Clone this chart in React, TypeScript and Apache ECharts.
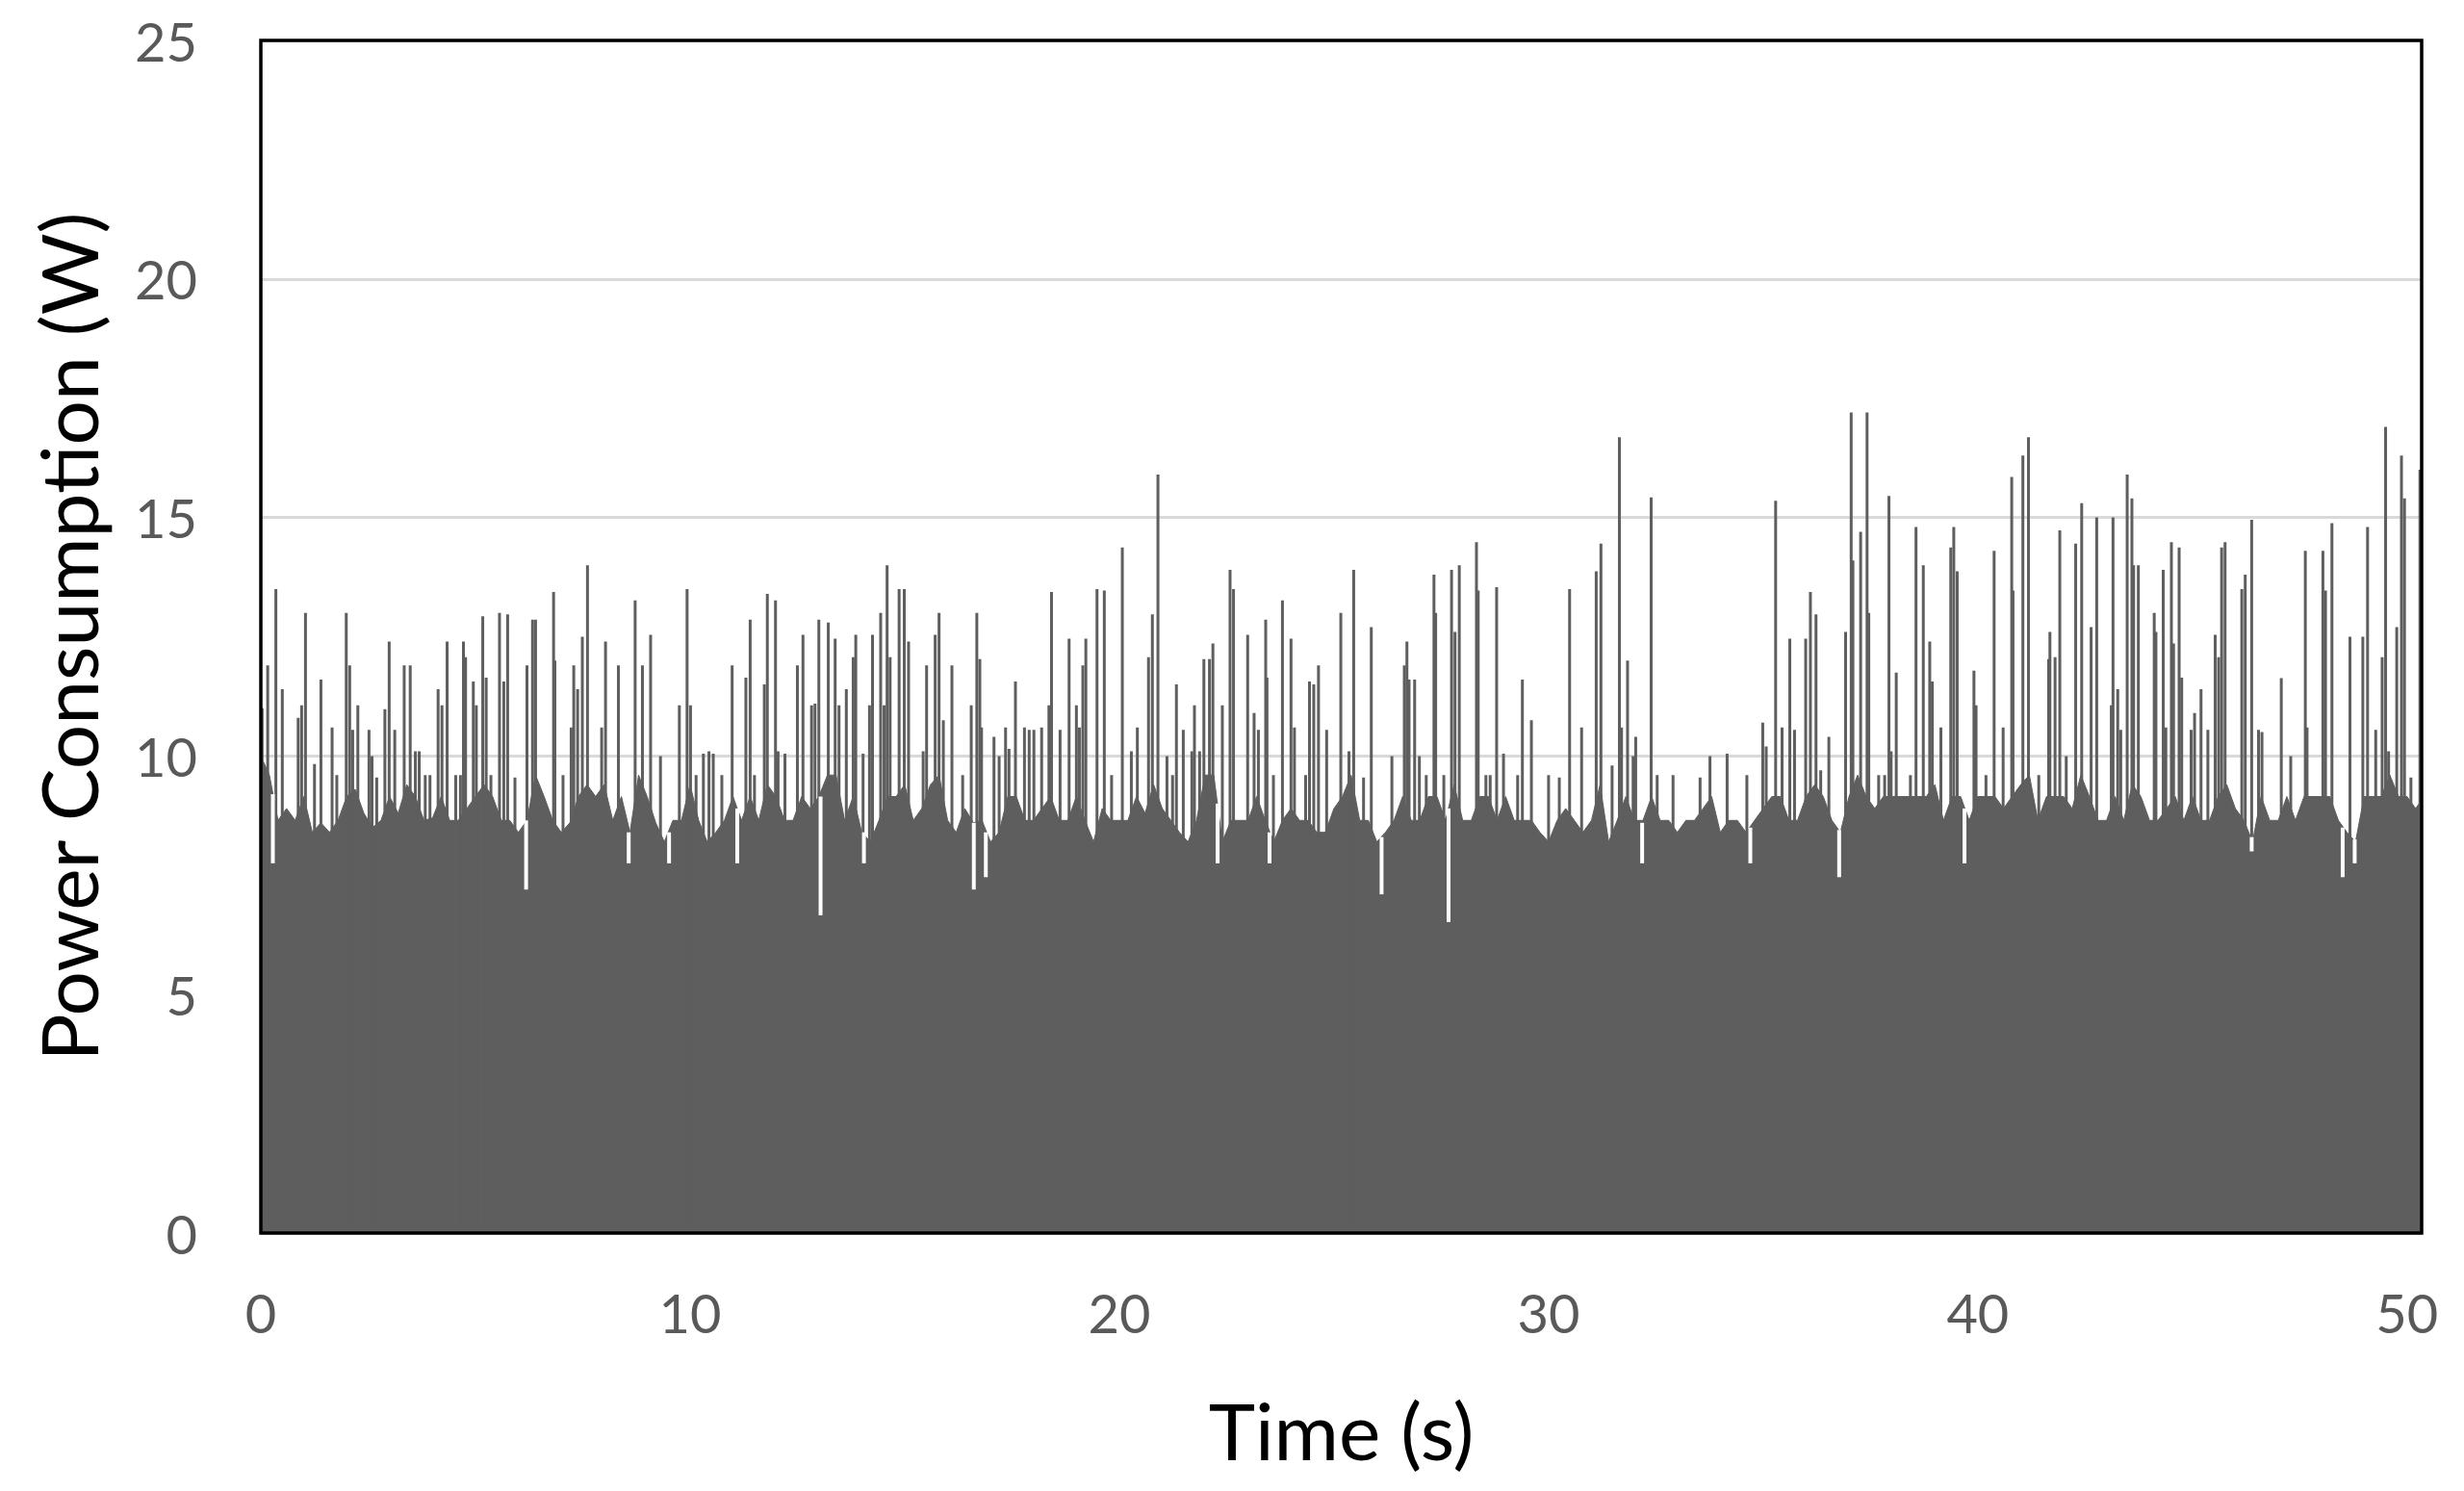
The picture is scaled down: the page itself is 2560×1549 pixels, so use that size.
import React, { useEffect, useRef } from "react";
import * as echarts from "echarts";

// ---- axes ----
const X_MIN = 0;
const X_MAX = 50.34;
const X_INTERVAL = 10;
const Y_MIN = 0;
const Y_MAX = 25;
const Y_INTERVAL = 5;
const X_TITLE = "Time (s)";
const Y_TITLE = "Power Consumption (W)";

// ---- baseline power level, sampled every 0.2 s from t = 0 ----
const BASE_STEP = 0.2;
const baseValues: number[] = [
  10.0, 9.6, 8.65, 8.9, 8.65, 9.15, 8.4, 8.6, 8.4, 8.65,
  9.15, 9.3, 8.8, 8.5, 8.65, 9.15, 8.8, 9.4, 9.15, 8.65,
  8.7, 9.15, 8.65, 8.65, 8.9, 9.15, 9.4, 9.15, 8.65, 8.65,
  8.4, 8.65, 9.6, 9.15, 8.65, 8.4, 8.6, 9.15, 9.4, 9.15,
  9.4, 8.65, 9.15, 8.4, 9.6, 9.15, 8.6, 8.2, 8.65, 8.65,
  9.4, 8.65, 8.2, 8.4, 8.65, 9.15, 8.65, 9.15, 8.65, 9.4,
  9.15, 8.65, 8.65, 9.15, 8.9, 9.15, 9.6, 9.6, 8.65, 9.15,
  8.4, 8.2, 8.65, 9.15, 9.15, 9.4, 8.65, 8.9, 9.4, 9.6,
  8.65, 8.4, 8.9, 8.6, 8.65, 8.2, 8.4, 9.15, 9.15, 8.65,
  8.65, 8.9, 9.15, 8.65, 8.65, 9.15, 8.65, 8.2, 8.9, 8.65,
  8.65, 8.65, 9.15, 8.8, 9.4, 8.9, 8.65, 8.4, 8.2, 8.65,
  9.6, 9.6, 8.2, 8.65, 8.65, 8.65, 9.15, 8.65, 8.2, 8.65,
  8.9, 8.65, 8.65, 8.4, 8.4, 8.9, 9.15, 9.6, 8.65, 8.65,
  8.2, 8.4, 8.65, 9.15, 8.65, 8.65, 9.15, 9.15, 8.65, 9.4,
  8.65, 8.65, 9.15, 9.15, 8.65, 9.15, 8.65, 8.65, 8.65, 8.4,
  8.2, 8.65, 8.9, 8.65, 8.4, 8.65, 9.4, 8.2, 8.65, 9.15,
  8.65, 8.65, 9.15, 8.65, 8.65, 8.4, 8.65, 8.65, 8.9, 9.15,
  8.4, 8.65, 8.65, 8.4, 8.65, 8.9, 9.15, 9.15, 8.65, 8.65,
  9.15, 9.4, 9.15, 8.65, 8.4, 9.15, 9.6, 9.15, 8.9, 9.15,
  9.15, 9.15, 9.15, 9.15, 9.15, 9.4, 8.65, 9.15, 9.15, 8.65,
  9.15, 9.15, 9.15, 8.9, 9.15, 9.4, 9.6, 8.65, 9.15, 9.15,
  9.15, 8.9, 9.6, 9.15, 8.65, 8.65, 9.15, 8.65, 9.4, 9.15,
  8.65, 8.65, 8.9, 9.15, 8.65, 9.15, 8.65, 8.65, 9.15, 9.4,
  8.9, 8.65, 8.2, 9.15, 8.65, 8.65, 9.15, 8.65, 9.15, 9.15,
  9.15, 9.15, 8.65, 8.4, 8.2, 9.15, 9.15, 9.15, 9.6, 9.15,
  9.15, 8.9, 9.15,
];

// ---- short power spikes: [time s, power W] ----
const spikes: [number, number][] = [
  [0.03, 11.0], [0.16, 11.9], [0.35, 13.5], [0.5, 11.4], [0.87, 10.8], [0.95, 11.06], [1.04, 13.0],
  [1.25, 9.83], [1.4, 11.6], [1.66, 10.6], [1.77, 9.6], [1.99, 13.0], [2.07, 11.9], [2.14, 10.55],
  [2.26, 11.06], [2.52, 10.55], [2.59, 10.0], [2.7, 9.55], [2.89, 10.98], [2.99, 12.4], [3.12, 10.55],
  [3.34, 11.9], [3.48, 11.9], [3.6, 10.1], [3.69, 10.1], [3.83, 9.6], [3.94, 9.6], [4.13, 11.4],
  [4.22, 11.06], [4.34, 12.4], [4.54, 9.6], [4.65, 9.6], [4.72, 12.4], [4.77, 12.07], [4.95, 11.56],
  [5.02, 11.06], [5.17, 12.93], [5.25, 11.64], [5.36, 9.6], [5.56, 13.0], [5.66, 11.56], [5.75, 12.97],
  [5.92, 9.55], [6.2, 11.9], [6.33, 12.86], [6.4, 12.86], [6.82, 13.44], [6.85, 12.0], [7.04, 9.6],
  [7.23, 10.6], [7.29, 11.9], [7.38, 11.4], [7.49, 12.5], [7.61, 14.0], [7.94, 10.6], [8.03, 12.4],
  [8.33, 11.9],
  [8.72, 13.26], [8.89, 11.9], [9.08, 12.54], [9.31, 10.0], [9.75, 11.06], [9.93, 13.5], [10.01, 11.06],
  [10.14, 9.6], [10.31, 10.05], [10.44, 10.1], [10.54, 10.05], [10.74, 9.6], [10.98, 11.9], [11.3, 11.64],
  [11.4, 12.86], [11.5, 9.6], [11.73, 11.5], [11.8, 13.4], [11.99, 13.26], [12.05, 10.1], [12.21, 10.05],
  [12.5, 11.9], [12.63, 12.54], [12.83, 11.06], [12.91, 11.1], [13.0, 12.86], [13.22, 12.8], [13.38, 12.46],
  [13.47, 11.06], [13.64, 11.4], [13.8, 12.07], [13.86, 12.54], [14.03, 10.05], [14.18, 11.06], [14.25, 12.54],
  [14.44, 13.0], [14.52, 11.06], [14.59, 14.0], [14.66, 12.07], [14.87, 13.5], [14.99, 13.5], [15.09, 12.4],
  [15.43, 10.1], [15.51, 11.9], [15.71, 12.54], [15.8, 13.0], [15.9, 10.75], [16.1, 11.9], [16.35, 9.6],
  [16.55, 11.06], [16.68, 13.0],
  [16.75, 12.03], [16.79, 10.6], [17.08, 10.4], [17.2, 10.0], [17.35, 10.6], [17.43, 10.15], [17.58, 11.56],
  [17.79, 10.6], [17.9, 10.55], [18.01, 10.55], [18.19, 10.6], [18.36, 11.06], [18.42, 13.44], [18.62, 10.55],
  [18.83, 12.46], [19.0, 11.06], [19.07, 10.6], [19.15, 11.9], [19.22, 12.46], [19.48, 13.5], [19.65, 13.47],
  [19.82, 9.6], [20.07, 14.37], [20.28, 10.1], [20.42, 10.6], [20.68, 12.07], [20.77, 12.97], [20.9, 15.9],
  [21.11, 10.0], [21.24, 9.6], [21.33, 11.5], [21.49, 10.55], [21.69, 10.1], [21.75, 11.06], [21.87, 10.1],
  [21.97, 12.03], [22.1, 12.03], [22.18, 12.36], [22.4, 11.06], [22.58, 13.9], [22.66, 13.5], [22.99, 12.54],
  [23.14, 10.9], [23.24, 10.55], [23.41, 12.86], [23.44, 11.64], [23.59, 9.6], [23.8, 13.26], [24.0, 12.46],
  [24.08, 10.6], [24.34, 9.6], [24.43, 11.56], [24.53, 11.5], [24.64, 11.9], [24.83, 10.55], [25.16, 13.0],
  [25.35, 10.1], [25.46, 13.9], [25.69, 9.55], [25.87, 12.7], [26.35, 10.0], [26.64, 11.9], [26.7, 12.4],
  [26.75, 11.6], [26.88, 11.6], [26.99, 10.0], [27.15, 9.6], [27.33, 13.8], [27.37, 13.0], [27.56, 9.6],
  [27.74, 13.9], [27.82, 12.6], [27.92, 14.0], [28.32, 14.48], [28.36, 13.47], [28.54, 9.6], [28.64, 9.6],
  [28.79, 13.54], [28.95, 10.05], [29.28, 9.6], [29.39, 11.6], [29.6, 10.75], [30.0, 9.6], [30.25, 9.55],
  [30.49, 13.5], [30.77, 10.6], [31.11, 13.87], [31.22, 14.45], [31.48, 9.8], [31.65, 16.68], [31.7, 10.6],
  [31.84, 12.0], [31.97, 10.0], [32.03, 10.4], [32.39, 15.42], [32.53, 9.6], [32.9, 9.6], [33.53, 9.55],
  [33.76, 10.0], [34.16, 10.05], [34.62, 9.6], [34.99, 10.7], [35.07, 10.2], [35.29, 15.35], [35.44, 10.6],
  [35.62, 12.46], [35.73, 10.55], [35.99, 12.46], [36.1, 13.44], [36.23, 12.97], [36.34, 9.7], [36.53, 10.4],
  [36.92, 12.6], [37.05, 17.2], [37.09, 14.1], [37.27, 14.7], [37.42, 17.2], [37.46, 13.0], [37.69, 9.6],
  [37.83, 9.6], [37.93, 15.45], [37.98, 10.1], [38.1, 11.75], [38.43, 9.6], [38.56, 14.8], [38.73, 14.0],
  [38.88, 12.4], [38.94, 11.56], [39.14, 10.6], [39.37, 14.37], [39.44, 14.8], [39.52, 13.87], [39.91, 11.79],
  [39.96, 11.06], [40.19, 9.6], [40.38, 14.3], [40.59, 10.6], [40.79, 15.85], [40.82, 13.47], [41.05, 16.3],
  [41.18, 16.68], [41.42, 9.6], [41.65, 12.03], [41.68, 12.6], [41.8, 12.07], [41.91, 14.73],
  [42.06, 10.0], [42.28, 14.45], [42.42, 15.3], [42.64, 12.7], [42.77, 15.0], [43.11, 11.06], [43.15, 15.0],
  [43.26, 11.4], [43.33, 10.55], [43.48, 15.9], [43.59, 15.4], [43.63, 14.0], [43.74, 14.0], [44.11, 13.0],
  [44.15, 12.6], [44.32, 13.9], [44.38, 10.6], [44.51, 14.48], [44.56, 12.36], [44.69, 14.37], [44.75, 11.64],
  [44.97, 10.55], [45.05, 10.9], [45.2, 11.4], [45.36, 10.55], [45.53, 12.54], [45.61, 12.07], [45.68, 14.37],
  [45.76, 14.48], [46.15, 13.5], [46.23, 13.8], [46.38, 14.95], [46.54, 10.55], [46.62, 10.5], [47.07, 11.63],
  [47.29, 10.0], [47.63, 14.3], [47.67, 10.6], [48.04, 14.3], [48.1, 13.47], [48.25, 14.88], [48.67, 12.5],
  [48.97, 12.5], [49.08, 14.8], [49.27, 10.55], [49.42, 12.07], [49.5, 16.9], [49.57, 10.1], [49.76, 12.7],
  [49.87, 16.3], [49.94, 15.4], [50.09, 9.55], [50.3, 16.0],
];

// ---- short power drops: [time s, lowest W, surrounding level W] ----
const dips: [number, number, number][] = [
  [0.28, 7.75, 9.2], [6.18, 7.2, 8.65], [8.57, 7.75, 8.4], [9.51, 7.75, 8.4], [11.1, 7.75, 8.9],
  [13.04, 6.66, 9.15], [14.05, 7.75, 8.4], [16.61, 7.2, 8.6], [16.89, 7.46, 8.4], [22.29, 7.75, 9.0],
  [23.5, 7.75, 8.4], [26.11, 7.1, 8.3], [27.67, 6.52, 8.9], [32.18, 7.75, 8.6], [34.7, 7.75, 8.5],
  [36.77, 7.46, 8.45], [39.69, 7.75, 8.9], [46.38, 8.0, 8.3], [48.5, 7.46, 8.5], [48.78, 7.75, 8.25],
];

const FILL = "#5e5e5e";
const FONT = "Lato, 'Noto Sans', sans-serif";

// plot-area layout (pixels)
const GRID_LEFT = 271;
const GRID_TOP = 42;
const GRID_RIGHT = 44;
const GRID_BOTTOM = 268;
const W = 2560;
const H = 1549;
const DIP_WIDTH = 4;

export default function App() {
  const ref = useRef<HTMLDivElement>(null);

  useEffect(() => {
    if (!ref.current) return;
    const chart = echarts.init(ref.current, undefined, { renderer: "svg" });

    const baseData = baseValues.map((v, i) => [Number((i * BASE_STEP).toFixed(2)), v]);
    const spikeData = spikes.map(([t, v]) => [t, v]);
    const dipData = dips.map(([t, lo, top]) => [t, lo, top]);

    chart.setOption({
      animation: false,
      backgroundColor: "#ffffff",
      grid: {
        left: GRID_LEFT,
        right: GRID_RIGHT,
        top: GRID_TOP,
        bottom: GRID_BOTTOM,
        show: false,
        containLabel: false,
      },
      graphic: [
        {
          type: "rect",
          z: 100,
          silent: true,
          shape: {
            x: GRID_LEFT,
            y: GRID_TOP,
            width: W - GRID_LEFT - GRID_RIGHT,
            height: H - GRID_TOP - GRID_BOTTOM,
          },
          style: { fill: "none", stroke: "#000000", lineWidth: 3.5 },
        },
      ],
      xAxis: {
        type: "value",
        min: X_MIN,
        max: X_MAX,
        interval: X_INTERVAL,
        name: X_TITLE,
        nameLocation: "middle",
        nameGap: 163,
        nameTextStyle: { fontSize: 82, color: "#000000", fontFamily: FONT },
        axisLine: { show: false },
        axisTick: { show: false },
        splitLine: { show: false },
        axisLabel: {
          fontSize: 56,
          color: "#595959",
          fontFamily: FONT,
          margin: 54,
          formatter: (v: number) => (Math.abs(v % X_INTERVAL) < 1e-9 ? String(v) : ""),
        },
      },
      yAxis: {
        type: "value",
        min: Y_MIN,
        max: Y_MAX,
        interval: Y_INTERVAL,
        name: Y_TITLE,
        nameLocation: "middle",
        nameGap: 160,
        nameTextStyle: { fontSize: 82, color: "#000000", fontFamily: FONT },
        axisLine: { show: false },
        axisTick: { show: false },
        splitLine: { show: true, lineStyle: { color: "#d9d9d9", width: 3 } },
        axisLabel: { fontSize: 56, color: "#595959", fontFamily: FONT, margin: 66 },
      },
      series: [
        {
          type: "line",
          data: baseData,
          symbol: "none",
          lineStyle: { width: 1, color: FILL },
          areaStyle: { color: FILL, opacity: 1 },
          clip: true,
          silent: true,
          z: 2,
        },
        {
          type: "bar",
          data: spikeData,
          barWidth: 3,
          itemStyle: { color: FILL },
          silent: true,
          z: 3,
        },
        {
          type: "custom",
          data: dipData,
          dimensions: ["t", "low", "top"],
          encode: { x: 0, y: 1 },
          silent: true,
          clip: true,
          z: 4,
          renderItem: (params: any, api: any) => {
            const t = api.value(0);
            const lo = api.coord([t, api.value(1)]);
            const hi = api.coord([t, api.value(2)]);
            return {
              type: "rect",
              shape: {
                x: lo[0] - DIP_WIDTH / 2,
                y: hi[1],
                width: DIP_WIDTH,
                height: lo[1] - hi[1],
              },
              style: { fill: "#ffffff" },
            };
          },
        },
      ],
    });

    return () => chart.dispose();
  }, []);

  return (
    <div
      ref={ref}
      style={{ position: "fixed", left: 0, top: 0, width: W, height: H, background: "#fff" }}
    />
  );
}
